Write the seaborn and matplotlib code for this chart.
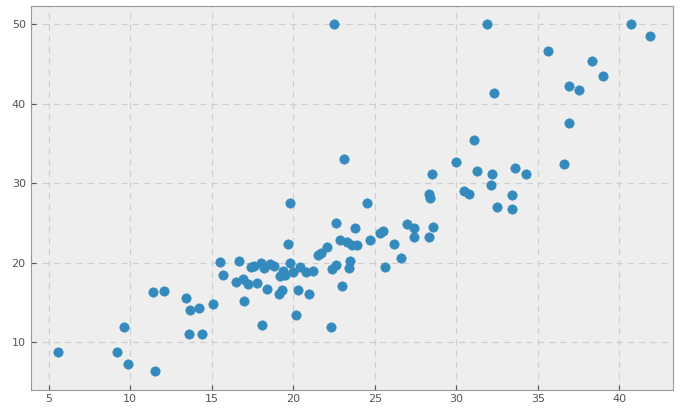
import matplotlib
matplotlib.use("Agg")
import matplotlib.pyplot as plt
import seaborn as sns
import pandas as pd

actual = [5.6,9.2,9.6,9.9,11.5,11.4,12.1,13.4,13.6,13.7,14.2,14.4,15.1,15.5,15.7,16.5,16.7,16.9,17.0,17.2,17.4,17.6,17.8,18.0,18.1,18.2,18.4,18.6,18.8,19.1,19.2,19.3,19.4,19.5,19.7,19.8,19.8,20.0,20.2,20.3,20.4,20.8,21.0,21.2,21.5,21.7,22.1,22.3,22.4,22.5,22.6,22.6,22.9,23.0,23.1,23.3,23.4,23.5,23.6,23.8,23.9,24.5,24.7,25.3,25.5,25.6,26.2,26.6,27.0,27.4,27.4,28.3,28.3,28.4,28.5,28.6,30.0,30.5,30.8,31.1,31.3,31.9,32.1,32.2,32.3,32.5,33.4,33.4,33.6,34.3,35.6,36.6,36.9,36.9,37.5,38.3,39.0,40.7,41.9]
predicted = [8.8,8.7,11.9,7.2,6.3,16.3,16.4,15.6,11.0,14.0,14.3,11.0,14.8,20.1,18.5,17.6,20.2,17.9,15.2,17.3,19.4,19.6,17.4,19.9,12.1,19.3,16.7,19.8,19.6,16.0,18.3,16.6,19.0,18.4,22.3,27.5,19.9,18.8,13.4,16.6,19.4,18.8,16.0,18.9,21.0,21.2,22.0,11.9,19.2,50.0,19.7,25.0,22.9,17.0,33.0,22.6,19.3,20.2,22.2,24.4,22.2,27.5,22.8,23.7,24.0,19.4,22.3,20.6,24.8,23.2,24.4,23.2,28.7,28.1,31.2,24.5,32.7,29.0,28.6,35.4,31.5,50.0,29.8,31.1,41.3,27.0,28.5,26.7,31.9,31.1,46.7,32.4,42.3,37.6,41.7,45.4,43.5,50.0,48.5]

df = pd.DataFrame({"x": actual, "y": predicted})
plt.style.use("bmh")
fig, ax = plt.subplots(figsize=(6.8, 4.11), dpi=100)
ax.grid(True, color="#cfcfcf", linestyle=(0, (5, 4)), linewidth=0.9)
sns.scatterplot(data=df, x="x", y="y", ax=ax, color="#348ABD", s=45, edgecolor="#348ABD", linewidth=0.5, zorder=3)
ax.set_xlim(3.9, 43.3)
ax.set_ylim(4.0, 52.3)
ax.set_xticks([5,10,15,20,25,30,35,40])
ax.set_yticks([10,20,30,40,50])
ax.set_xlabel("")
ax.set_ylabel("")
ax.tick_params(labelsize=8, colors="#555555")
for s in ax.spines.values():
    s.set_color("#999999")
fig.subplots_adjust(left=0.045, right=0.99, top=0.985, bottom=0.052)
fig.savefig("out.png")
